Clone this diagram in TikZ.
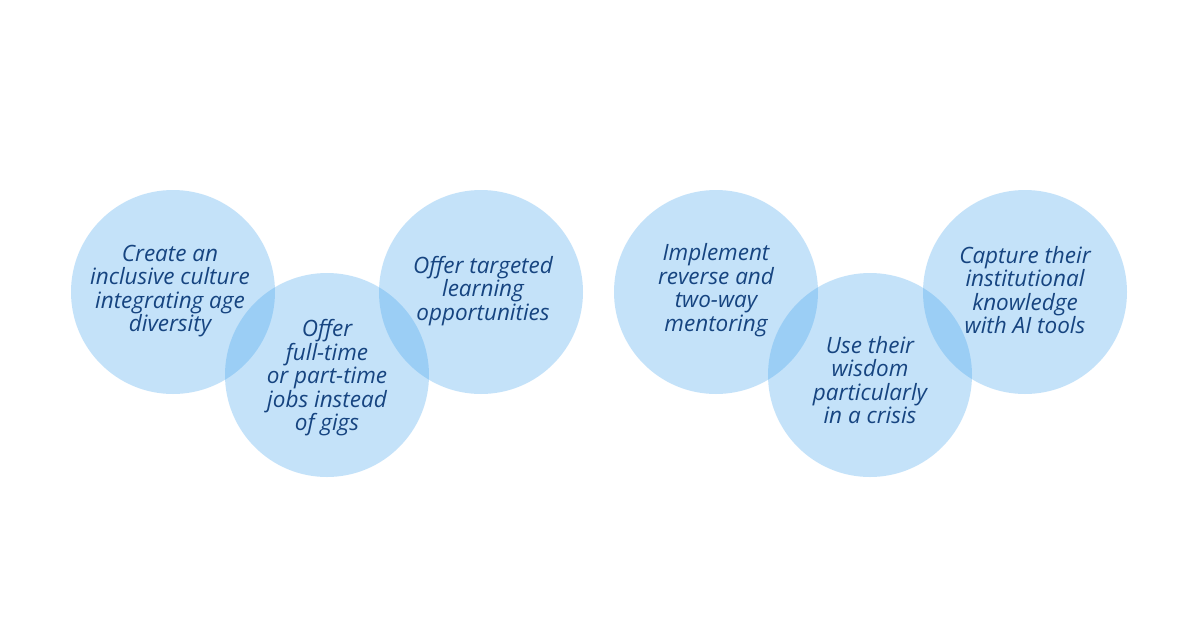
\documentclass[tikz,border=0pt]{standalone}
\usepackage{fontspec}
\setmainfont{Open Sans}
\definecolor{circblue}{RGB}{62,162,238}
\definecolor{txtblue}{RGB}{22,68,128}
\begin{document}
\begin{tikzpicture}[x=1pt,y=-1pt,
  bubble/.style={circle,minimum size=204pt,inner sep=0pt,fill=circblue,fill opacity=0.3,text opacity=1},
  label/.style={align=center,text=txtblue,font=\fontsize{22.5}{23.5}\selectfont\itshape}]
\fill[white] (0,0) rectangle (1200,627);
\useasboundingbox (0,0) rectangle (1200,627);
\node[bubble] (c1) at (173,292) {};
\node[bubble] (c2) at (327,375) {};
\node[bubble] (c3) at (481,292) {};
\node[bubble] (c4) at (716,292) {};
\node[bubble] (c5) at (870,375) {};
\node[bubble] (c6) at (1025,292) {};
\node[label] (t1) at (170,291) {Create an\\inclusive culture\\integrating age\\diversity};
\node[label] (t2) at (327,378) {Offer\\full-time\\or part-time\\jobs instead\\of gigs};
\node[label] (t3) at (483,291) {Offer targeted\\learning\\opportunities};
\node[label] (t4) at (716,290) {Implement\\reverse and\\two-way\\mentoring};
\node[label] (t5) at (870,380) {Use their\\wisdom\\particularly\\in a crisis};
\node[label] (t6) at (1025,290) {Capture their\\institutional\\knowledge\\with AI tools};
\end{tikzpicture}
\end{document}
